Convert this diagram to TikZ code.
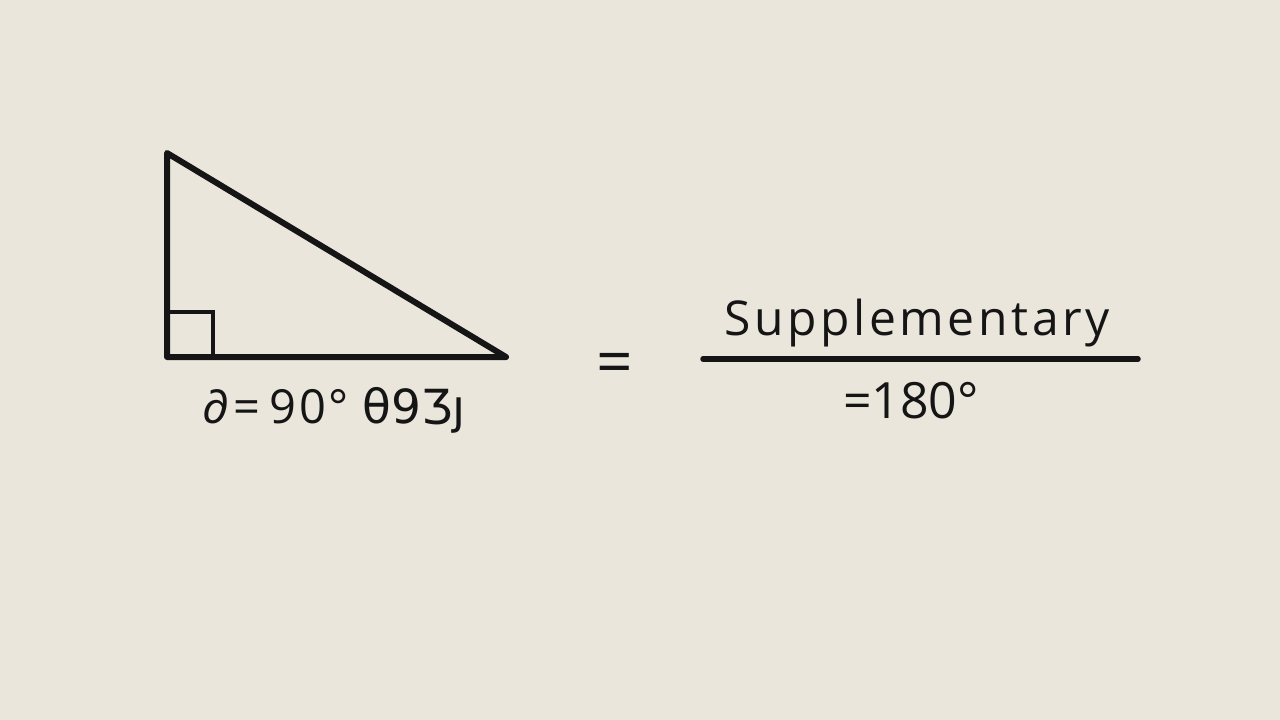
\documentclass[tikz,border=0pt]{standalone}
\usepackage{fontspec}
\setmainfont{Open Sans}
\newfontfamily\symfont{DejaVu Sans}
\definecolor{bg}{HTML}{EAE6DC}
\definecolor{ink}{HTML}{151515}
\begin{document}
\begin{tikzpicture}[x=1pt,y=-1pt,
  txt/.style={inner sep=0pt,text=ink,anchor=base}]
\fill[bg] (0,0) rectangle (1280,720);
\useasboundingbox (0,0) rectangle (1280,720);
% triangle
\coordinate (A) at (167,153);
\coordinate (B) at (167,357);
\coordinate (C) at (506,357);
\draw[ink,line width=6pt,line join=round,line cap=round] (A) -- (B) -- (C) -- cycle;
\draw[ink,line width=4pt] (169,312) -- (213,312) -- (213,357);
% label under triangle
\node[txt] (lab) at (334,423) {\fontsize{47}{47}\selectfont\addfontfeature{LetterSpace=6}∂\hspace{4pt}=\hspace{9pt}90°\hspace{14pt}{\symfont θ9Ʒȷ}};
% equals
\node[txt] (eq) at (615,384) {\fontsize{64}{64}\selectfont =};
% fraction
\node[txt] (num) at (917,335) {\fontsize{48}{48}\selectfont\addfontfeature{LetterSpace=7.5}Supplementary};
\coordinate (L) at (703,359);
\coordinate (R) at (1138,359);
\draw[ink,line width=5.5pt,line cap=round] (L) -- (R);
\node[txt] (den) at (911,418) {\fontsize{50}{50}\selectfont =180°};
\end{tikzpicture}
\end{document}
